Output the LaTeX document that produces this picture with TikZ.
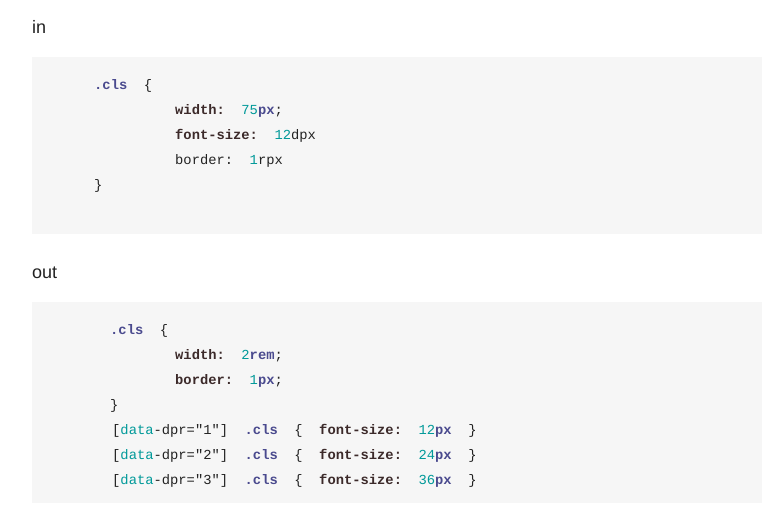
\documentclass[tikz,border=0pt]{standalone}
\usepackage{fontspec}
\setmainfont{Liberation Sans}
\setmonofont{Liberation Mono}
\definecolor{bgc}{HTML}{F6F6F6}
\definecolor{sel}{HTML}{4A4A8E}
\definecolor{prop}{HTML}{3C2A2A}
\definecolor{num}{HTML}{009999}
\definecolor{txt}{HTML}{222222}
\newcommand{\csel}[1]{\textcolor{sel}{\textbf{#1}}}
\newcommand{\cprop}[1]{\textcolor{prop}{\textbf{#1}}}
\newcommand{\cnum}[1]{\textcolor{num}{#1}}
\begin{document}
\begin{tikzpicture}[x=1pt,y=-1pt,
  code/.style={anchor=base west,inner sep=0pt,font=\ttfamily\fontsize{13.8}{14}\selectfont,text=txt},
  head/.style={anchor=base west,inner sep=0pt,font=\fontsize{18}{18}\selectfont,text=txt}]
\useasboundingbox (0,0) rectangle (775,525);
\fill[white] (0,0) rectangle (775,525);
\fill[bgc] (32,57) rectangle (762,234);
\fill[bgc] (32,302) rectangle (762,503);
\node[head] (hin) at (32,33) {in};
\node[head] (hout) at (32,278) {out};
\node[code] (a1) at (94,89) {\csel{.cls}\ \ \{};
\node[code] (a2) at (175,114) {\cprop{width:}\ \ \cnum{75}\csel{px};};
\node[code] (a3) at (175,139) {\cprop{font-size:}\ \ \cnum{12}dpx};
\node[code] (a4) at (175,164) {border:\ \ \cnum{1}rpx};
\node[code] (a5) at (94,189) {\}};
\node[code] (b1) at (110,334) {\csel{.cls}\ \ \{};
\node[code] (b2) at (175,359) {\cprop{width:}\ \ \cnum{2}\csel{rem};};
\node[code] (b3) at (175,384) {\cprop{border:}\ \ \cnum{1}\csel{px};};
\node[code] (b4) at (110,409) {\}};
\node[code] (c1) at (112,434) {[\cnum{data}-dpr="1"]\ \ \csel{.cls}\ \ \{\ \ \cprop{font-size:}\ \ \cnum{12}\csel{px}\ \ \}};
\node[code] (c2) at (112,459) {[\cnum{data}-dpr="2"]\ \ \csel{.cls}\ \ \{\ \ \cprop{font-size:}\ \ \cnum{24}\csel{px}\ \ \}};
\node[code] (c3) at (112,484) {[\cnum{data}-dpr="3"]\ \ \csel{.cls}\ \ \{\ \ \cprop{font-size:}\ \ \cnum{36}\csel{px}\ \ \}};
\end{tikzpicture}
\end{document}
